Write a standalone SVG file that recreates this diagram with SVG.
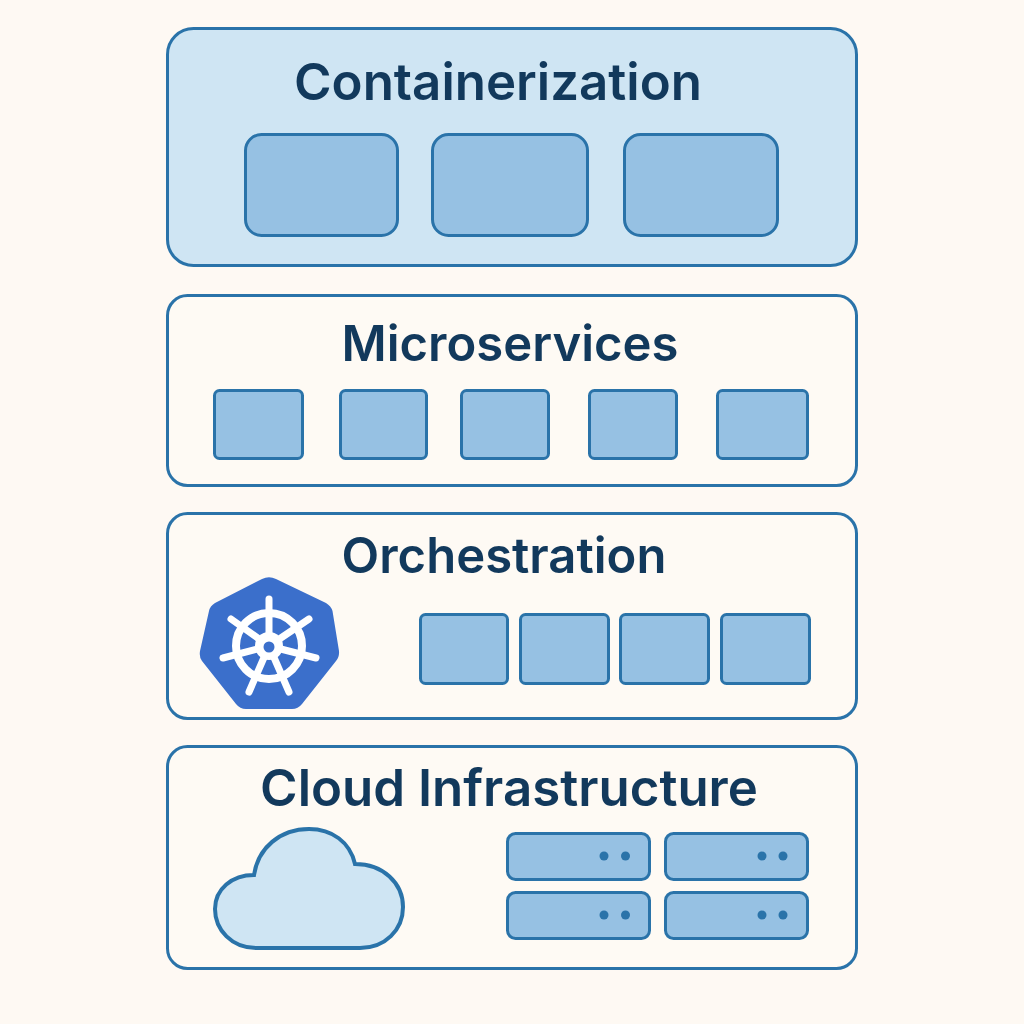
<svg xmlns="http://www.w3.org/2000/svg" xmlns:xlink="http://www.w3.org/1999/xlink" width="1024" height="1024" viewBox="0 0 1024 1024">
<style>
.panel{fill:#fefaf4;stroke:#2a73a9;stroke-width:3}
.box{fill:#96c1e3;stroke:#2a73a9;stroke-width:3}
.title{font-family:"Inter","Liberation Sans",sans-serif;font-weight:600;fill:#12395c;text-anchor:middle}
.link{stroke:#2a73a9;stroke-width:3;fill:none}
.dot{fill:#2a73a9}
.spoke{stroke:#fff;stroke-width:7;stroke-linecap:round;fill:none}
</style>
<rect width="1024" height="1024" fill="#fef9f3"/>
<g id="connectors">
<line class="link" x1="303" y1="425" x2="340" y2="425"/>
<line class="link" x1="427" y1="425" x2="461" y2="425"/>
<line class="link" x1="677" y1="425" x2="717" y2="425"/>
</g>
<g id="containerization">
<rect x="167.500" y="28.500" width="689" height="237" rx="26" fill="#cfe5f3" stroke="#2a73a9" stroke-width="3"/>
<text class="title" x="498" y="100" font-size="51">Containerization</text>
<rect class="box" x="245.500" y="134.500" width="152" height="101" rx="16"/>
<rect class="box" x="432.500" y="134.500" width="155" height="101" rx="16"/>
<rect class="box" x="624.500" y="134.500" width="153" height="101" rx="16"/>
</g>
<g id="microservices">
<rect class="panel" x="167.500" y="295.500" width="689" height="190" rx="20"/>
<text class="title" x="510" y="361" font-size="49">Microservices</text>
<rect class="box" x="214.500" y="390.500" width="88" height="68" rx="5"/>
<rect class="box" x="340.500" y="390.500" width="86" height="68" rx="5"/>
<rect class="box" x="461.500" y="390.500" width="87" height="68" rx="5"/>
<rect class="box" x="589.500" y="390.500" width="87" height="68" rx="5"/>
<rect class="box" x="717.500" y="390.500" width="90" height="68" rx="5"/>
</g>
<g id="orchestration">
<rect class="panel" x="167.500" y="513.500" width="689" height="205" rx="20"/>
<text class="title" x="504" y="573" font-size="49">Orchestration</text>
<path d="M262 579Q269 575.500 276 579L326 603Q331 606 332.500 611L339 651Q339.500 657 336 661L302 704Q298 709 292 709H246Q240 709 236 704L202 661Q199 657 200 651L209 611Q210 606 215 603Z" fill="#3b6fcb"/>
<circle cx="269" cy="646" r="33" fill="none" stroke="#fff" stroke-width="8"/>
<g class="spoke">
<line x1="269" y1="599" x2="269" y2="646"/>
<line x1="231" y1="619" x2="269" y2="646"/>
<line x1="309" y1="619" x2="269" y2="646"/>
<line x1="223" y1="658" x2="269" y2="646"/>
<line x1="316" y1="658" x2="269" y2="646"/>
<line x1="249" y1="692" x2="269" y2="646"/>
<line x1="289" y1="692" x2="269" y2="646"/>
</g>
<circle cx="269" cy="646" r="14" fill="#fff"/>
<circle cx="269" cy="647" r="5.500" fill="#3b6fcb"/>
<rect class="box" x="420.500" y="614.500" width="87" height="69" rx="5"/>
<rect class="box" x="520.500" y="614.500" width="88" height="69" rx="5"/>
<rect class="box" x="620.500" y="614.500" width="88" height="69" rx="5"/>
<rect class="box" x="721.500" y="614.500" width="88" height="69" rx="5"/>
</g>
<g id="cloud-infrastructure">
<rect class="panel" x="167.500" y="746.500" width="689" height="222" rx="20"/>
<text class="title" x="509" y="806" font-size="51">Cloud Infrastructure</text>
<path d="M254 875C258 848 280 829 309 829C332 829 350 842 355 864C383 864 403 883 403 907C403 930 385 948 360 948H256C232 948 215 930 215 909C215 889 232 875 254 875Z" fill="#cfe5f3" stroke="#2a73a9" stroke-width="4"/>
<rect class="box" x="507.500" y="833.500" width="142" height="46" rx="8"/>
<rect class="box" x="665.500" y="833.500" width="142" height="46" rx="8"/>
<rect class="box" x="507.500" y="892.500" width="142" height="46" rx="8"/>
<rect class="box" x="665.500" y="892.500" width="142" height="46" rx="8"/>
<circle class="dot" cx="604" cy="856" r="4.500"/><circle class="dot" cx="625.500" cy="856" r="4.500"/>
<circle class="dot" cx="762" cy="856" r="4.500"/><circle class="dot" cx="783" cy="856" r="4.500"/>
<circle class="dot" cx="604" cy="915" r="4.500"/><circle class="dot" cx="625.500" cy="915" r="4.500"/>
<circle class="dot" cx="762" cy="915" r="4.500"/><circle class="dot" cx="783" cy="915" r="4.500"/>
</g>
</svg>
